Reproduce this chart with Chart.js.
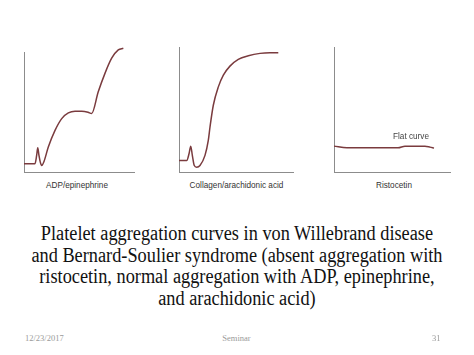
<!DOCTYPE html>
<html>
<head>
<meta charset="utf-8">
<script src="https://cdn.jsdelivr.net/npm/chart.js@4/dist/chart.umd.min.js"></script>
<style>
html,body{margin:0;padding:0;background:#fff;width:474px;height:355px;overflow:hidden;position:relative;}
.box{position:absolute;}
.cap{position:absolute;font-family:"Liberation Sans",Arial,sans-serif;font-size:8.2px;color:#333;white-space:nowrap;transform:translateX(-50%);}
#body{position:absolute;left:0;width:474px;top:223px;text-align:center;font-family:"Liberation Serif","Times New Roman",serif;font-size:20px;line-height:21.7px;color:#111;transform:scaleX(0.915);transform-origin:236.5px 0;white-space:nowrap;}
.foot{position:absolute;top:333px;font-family:"Liberation Serif",serif;font-size:8.5px;color:#9a9a9a;white-space:nowrap;}
</style>
</head>
<body>
<div class="box" style="left:18px;top:42px;width:122px;height:137px;"><canvas id="c1"></canvas></div>
<div class="box" style="left:173px;top:37px;width:126px;height:142px;"><canvas id="c2"></canvas></div>
<div class="box" style="left:328px;top:37px;width:128px;height:142px;"><canvas id="c3"></canvas></div>

<div class="cap" style="left:77px;top:180.5px;">ADP/epinephrine</div>
<div class="cap" style="left:236.5px;top:180.5px;">Collagen/arachidonic acid</div>
<div class="cap" style="left:394px;top:180.5px;">Ristocetin</div>
<div class="cap" style="left:411px;top:132px;color:#444;">Flat curve</div>

<div id="body">Platelet aggregation curves in von Willebrand disease<br>and Bernard-Soulier syndrome (absent aggregation with<br>ristocetin, normal aggregation with ADP, epinephrine,<br>and arachidonic acid)</div>

<div class="foot" style="left:25px;">12/23/2017</div>
<div class="foot" style="left:236.5px;transform:translateX(-50%);">Seminar</div>
<div class="foot" style="left:432px;">31</div>

<script>
// Aggregation curves: time (relative units 0-100) vs aggregation (relative units 0-100)
const adpTime  = [0, 10, 11.5, 12.5, 13.6, 14.8, 16.1, 18.2, 22.1, 28.2, 34.3, 40.3, 46.4, 52.5, 58.2, 61.5, 67.5, 73.6, 79.7, 85.7, 90.3];
const adpAggr  = [6.9, 6.9, 13.8, 20.3, 13.8, 8.2, 5.4, 8.8, 20.8, 34.7, 44.5, 49.2, 50.6, 50.6, 49.8, 48.7, 66.8, 82.2, 94.8, 101.7, 103.1];

const colTime  = [0, 6.8, 8.8, 10.3, 11.7, 13.4, 15.5, 18.4, 22.8, 25.7, 27.2, 30.1, 34.5, 38.9, 44.7, 52.0, 60.8, 71.1, 79.8, 87.1];
const colAggr  = [9.2, 9.2, 14.6, 20.7, 13.3, 5.2, 3.9, 5.2, 13.3, 25.3, 36.0, 53.4, 68.1, 77.5, 84.7, 90.1, 93.0, 94.9, 95.4, 95.4];

const ristoTime = [0, 11.2, 55.2, 61.2, 78.4, 82.8, 86.2];
const ristoAggr = [20.7, 19.4, 19.4, 20.7, 20.7, 19.9, 19.1];

const captions = ["ADP/epinephrine", "Collagen/arachidonic acid", "Ristocetin"];

const lineColor = "#7a3b3e";
const axisColor = "#8c8c8c";

function pts(xs, ys){ return xs.map((x,i)=>({x:x, y:ys[i]})); }

function makeChart(id, xs, ys, pad){
  new Chart(document.getElementById(id), {
    type: 'line',
    data: { datasets: [{ data: pts(xs, ys), borderColor: lineColor, borderWidth: 1.5,
      pointRadius: 0, cubicInterpolationMode: 'monotone', fill: false, clip: false }] },
    options: {
      responsive: true, maintainAspectRatio: false, animation: false,
      layout: { padding: pad },
      plugins: { legend: { display: false }, tooltip: { enabled: false } },
      scales: {
        x: { type: 'linear', min: 0, max: 100, grid: { display: false, drawTicks: false },
             ticks: { display: false }, border: { display: true, color: axisColor, width: 1 } },
        y: { type: 'linear', min: 0, max: 100, grid: { display: false, drawTicks: false },
             ticks: { display: false }, border: { display: true, color: axisColor, width: 1 } }
      }
    }
  });
}

makeChart('c1', adpTime, adpAggr, {left:6, top:10, right:6, bottom:7});
makeChart('c2', colTime, colAggr, {left:6, top:10, right:6, bottom:7});
makeChart('c3', ristoTime, ristoAggr, {left:6, top:10, right:6, bottom:7});
</script>
</body>
</html>
